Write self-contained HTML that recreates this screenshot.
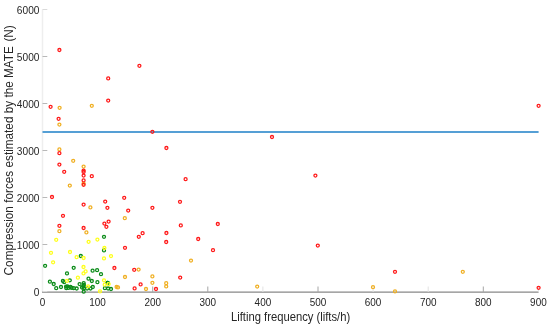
<!DOCTYPE html>
<html><head><meta charset="utf-8"><title>Chart</title>
<style>html,body{margin:0;padding:0;background:#fff}svg{display:block}text{font-family:"Liberation Sans",Arial,sans-serif;fill:#262626}</style>
</head><body>
<svg width="550" height="326" viewBox="0 0 550 326">
<rect width="550" height="326" fill="#fff"/>
<line x1="42.5" y1="9.5" x2="42.5" y2="292.0" stroke="#eeeeee" stroke-width="1.5"/>
<line x1="42.0" y1="292.2" x2="538.6" y2="292.2" stroke="#888" stroke-width="1.2"/>
<text transform="translate(42.5,306) scale(0.94,1)" font-size="10.6" text-anchor="middle">0</text>
<text transform="translate(97.6,306) scale(0.94,1)" font-size="10.6" text-anchor="middle">100</text>
<line x1="152.7" y1="292.0" x2="152.7" y2="286.5" stroke="#a6a6a6" stroke-width="1"/>
<text transform="translate(152.7,306) scale(0.94,1)" font-size="10.6" text-anchor="middle">200</text>
<line x1="207.8" y1="292.0" x2="207.8" y2="286.5" stroke="#a6a6a6" stroke-width="1"/>
<text transform="translate(207.8,306) scale(0.94,1)" font-size="10.6" text-anchor="middle">300</text>
<line x1="262.9" y1="292.0" x2="262.9" y2="286.5" stroke="#e2e2e2" stroke-width="1"/>
<text transform="translate(262.9,306) scale(0.94,1)" font-size="10.6" text-anchor="middle">400</text>
<line x1="318.0" y1="292.0" x2="318.0" y2="286.5" stroke="#a6a6a6" stroke-width="1"/>
<text transform="translate(318.0,306) scale(0.94,1)" font-size="10.6" text-anchor="middle">500</text>
<line x1="373.1" y1="292.0" x2="373.1" y2="286.5" stroke="#e2e2e2" stroke-width="1"/>
<text transform="translate(373.1,306) scale(0.94,1)" font-size="10.6" text-anchor="middle">600</text>
<line x1="428.2" y1="292.0" x2="428.2" y2="286.5" stroke="#e2e2e2" stroke-width="1"/>
<text transform="translate(428.2,306) scale(0.94,1)" font-size="10.6" text-anchor="middle">700</text>
<line x1="483.3" y1="292.0" x2="483.3" y2="286.5" stroke="#a6a6a6" stroke-width="1"/>
<text transform="translate(483.3,306) scale(0.94,1)" font-size="10.6" text-anchor="middle">800</text>
<line x1="538.4" y1="292.0" x2="538.4" y2="286.5" stroke="#e2e2e2" stroke-width="1"/>
<text transform="translate(538.4,306) scale(0.94,1)" font-size="10.6" text-anchor="middle">900</text>
<line x1="42.5" y1="291.5" x2="47.3" y2="291.5" stroke="#dadada" stroke-width="1"/>
<text transform="translate(39.4,296.4) scale(0.958,1)" font-size="10.6" text-anchor="end">0</text>
<line x1="42.5" y1="244.5" x2="47.3" y2="244.5" stroke="#b8b8b8" stroke-width="1"/>
<text transform="translate(39.4,249.4) scale(0.958,1)" font-size="10.6" text-anchor="end">1000</text>
<line x1="42.5" y1="197.5" x2="47.3" y2="197.5" stroke="#b8b8b8" stroke-width="1"/>
<text transform="translate(39.4,202.4) scale(0.958,1)" font-size="10.6" text-anchor="end">2000</text>
<line x1="42.5" y1="150.5" x2="47.3" y2="150.5" stroke="#b8b8b8" stroke-width="1"/>
<text transform="translate(39.4,155.4) scale(0.958,1)" font-size="10.6" text-anchor="end">3000</text>
<line x1="42.5" y1="103.5" x2="47.3" y2="103.5" stroke="#b8b8b8" stroke-width="1"/>
<text transform="translate(39.4,108.4) scale(0.958,1)" font-size="10.6" text-anchor="end">4000</text>
<line x1="42.5" y1="56.5" x2="47.3" y2="56.5" stroke="#b8b8b8" stroke-width="1"/>
<text transform="translate(39.4,61.4) scale(0.958,1)" font-size="10.6" text-anchor="end">5000</text>
<line x1="42.5" y1="9.5" x2="47.3" y2="9.5" stroke="#dadada" stroke-width="1"/>
<text transform="translate(39.4,14.4) scale(0.958,1)" font-size="10.6" text-anchor="end">6000</text>
<text transform="translate(290.6,321) scale(0.945,1)" font-size="11.9" text-anchor="middle">Lifting frequency (lifts/h)</text>
<text transform="translate(13.2,150.3) rotate(-90) scale(0.981,1)" font-size="12" text-anchor="middle">Compression forces estimated by the MATE<tspan dx="1.4"> (N)</tspan></text>
<line x1="42.5" y1="131.9" x2="538.6" y2="131.9" stroke="#559fd5" stroke-width="2"/>
<g fill="none" stroke="#0b8c19" stroke-width="1.3">
<circle cx="104" cy="236.8" r="1.5"/>
<circle cx="104" cy="250.4" r="1.5"/>
<circle cx="80.8" cy="256" r="1.5"/>
<circle cx="45.1" cy="265.8" r="1.5"/>
<circle cx="73.7" cy="267.8" r="1.5"/>
<circle cx="92.6" cy="270.7" r="1.5"/>
<circle cx="97.1" cy="270.2" r="1.5"/>
<circle cx="101" cy="274.2" r="1.5"/>
<circle cx="67" cy="273.4" r="1.5"/>
<circle cx="88.5" cy="278.7" r="1.5"/>
<circle cx="91.8" cy="281" r="1.5"/>
<circle cx="97.4" cy="282.2" r="1.5"/>
<circle cx="49.9" cy="281.7" r="1.5"/>
<circle cx="62.9" cy="281" r="1.5"/>
<circle cx="64.2" cy="282.2" r="1.5"/>
<circle cx="69.8" cy="280.3" r="1.5"/>
<circle cx="53.7" cy="284" r="1.5"/>
<circle cx="83.7" cy="283.1" r="1.5"/>
<circle cx="79.6" cy="284.1" r="1.5"/>
<circle cx="83.9" cy="285" r="1.5"/>
<circle cx="107.8" cy="282.8" r="1.5"/>
<circle cx="56.2" cy="288.2" r="1.5"/>
<circle cx="61" cy="287" r="1.5"/>
<circle cx="66.1" cy="286.6" r="1.5"/>
<circle cx="67.4" cy="286.3" r="1.5"/>
<circle cx="66.3" cy="288.2" r="1.5"/>
<circle cx="68.6" cy="287.9" r="1.5"/>
<circle cx="70.5" cy="287" r="1.5"/>
<circle cx="71.8" cy="287.9" r="1.5"/>
<circle cx="73.7" cy="288.2" r="1.5"/>
<circle cx="76.7" cy="288.5" r="1.5"/>
<circle cx="82" cy="287.5" r="1.5"/>
<circle cx="83.9" cy="288.3" r="1.5"/>
<circle cx="83.3" cy="286.6" r="1.5"/>
<circle cx="90.5" cy="288.5" r="1.5"/>
<circle cx="92.8" cy="287" r="1.5"/>
<circle cx="87.1" cy="288.5" r="1.5"/>
<circle cx="83.7" cy="291.7" r="1.5"/>
<circle cx="104.9" cy="288.2" r="1.5"/>
<circle cx="108.1" cy="288.5" r="1.5"/>
<circle cx="111" cy="289" r="1.5"/>
<circle cx="107.4" cy="283" r="1.5"/>
</g>
<g fill="none" stroke="#ffff1a" stroke-width="1.3">
<circle cx="56.2" cy="239.8" r="1.5"/>
<circle cx="97.4" cy="239.6" r="1.5"/>
<circle cx="88.6" cy="241.8" r="1.5"/>
<circle cx="104.4" cy="248" r="1.5"/>
<circle cx="51" cy="252.8" r="1.5"/>
<circle cx="70" cy="252" r="1.5"/>
<circle cx="76.6" cy="257.2" r="1.5"/>
<circle cx="83.6" cy="258" r="1.5"/>
<circle cx="104" cy="258.4" r="1.5"/>
<circle cx="111" cy="256.1" r="1.5"/>
<circle cx="53.1" cy="262.3" r="1.5"/>
<circle cx="83.5" cy="267" r="1.5"/>
<circle cx="85.6" cy="271.4" r="1.5"/>
<circle cx="83.5" cy="273.4" r="1.5"/>
<circle cx="77.9" cy="277.7" r="1.5"/>
<circle cx="104" cy="280.3" r="1.5"/>
<circle cx="67" cy="280.9" r="1.5"/>
<circle cx="104.7" cy="284.7" r="1.5"/>
<circle cx="108.7" cy="284.1" r="1.5"/>
<circle cx="88.1" cy="286.3" r="1.5"/>
<circle cx="100" cy="291.3" r="1.5"/>
</g>
<g fill="none" stroke="#f0b024" stroke-width="1.3">
<circle cx="59.6" cy="107.8" r="1.5"/>
<circle cx="59.4" cy="124.6" r="1.5"/>
<circle cx="91.8" cy="105.8" r="1.5"/>
<circle cx="59.4" cy="149.4" r="1.5"/>
<circle cx="73.2" cy="160.8" r="1.5"/>
<circle cx="83.6" cy="166.6" r="1.5"/>
<circle cx="83.6" cy="183.6" r="1.5"/>
<circle cx="69.8" cy="185.6" r="1.5"/>
<circle cx="90.4" cy="207.4" r="1.5"/>
<circle cx="59.4" cy="231.2" r="1.5"/>
<circle cx="86.4" cy="232.4" r="1.5"/>
<circle cx="124.8" cy="218.2" r="1.5"/>
<circle cx="191" cy="260.6" r="1.5"/>
<circle cx="138.6" cy="269.6" r="1.5"/>
<circle cx="125" cy="277" r="1.5"/>
<circle cx="152.4" cy="276.4" r="1.5"/>
<circle cx="152.4" cy="282.8" r="1.5"/>
<circle cx="166.2" cy="283.2" r="1.5"/>
<circle cx="166.2" cy="286.4" r="1.5"/>
<circle cx="116.6" cy="287" r="1.5"/>
<circle cx="118" cy="287.4" r="1.5"/>
<circle cx="146" cy="289" r="1.5"/>
<circle cx="257.2" cy="286.6" r="1.5"/>
<circle cx="373" cy="287.2" r="1.5"/>
<circle cx="395" cy="291.4" r="1.5"/>
<circle cx="462.8" cy="271.8" r="1.5"/>
</g>
<g fill="none" stroke="#ff1a1a" stroke-width="1.3">
<circle cx="59.4" cy="50" r="1.5"/>
<circle cx="50.6" cy="106.8" r="1.5"/>
<circle cx="58.6" cy="118.8" r="1.5"/>
<circle cx="108.2" cy="78.4" r="1.5"/>
<circle cx="108.2" cy="100.6" r="1.5"/>
<circle cx="139.4" cy="65.8" r="1.5"/>
<circle cx="152.4" cy="131.8" r="1.5"/>
<circle cx="166.4" cy="148" r="1.5"/>
<circle cx="272" cy="137" r="1.5"/>
<circle cx="538.6" cy="105.8" r="1.5"/>
<circle cx="59.4" cy="153.2" r="1.5"/>
<circle cx="59.4" cy="164.6" r="1.5"/>
<circle cx="64.2" cy="171.8" r="1.5"/>
<circle cx="83.6" cy="170.6" r="1.5"/>
<circle cx="83.6" cy="172" r="1.5"/>
<circle cx="83.6" cy="175.6" r="1.5"/>
<circle cx="91.8" cy="176.2" r="1.5"/>
<circle cx="83.6" cy="180.4" r="1.5"/>
<circle cx="83.6" cy="184.8" r="1.5"/>
<circle cx="52" cy="197" r="1.5"/>
<circle cx="83.6" cy="204.6" r="1.5"/>
<circle cx="105.2" cy="201.6" r="1.5"/>
<circle cx="107.4" cy="207.8" r="1.5"/>
<circle cx="63" cy="215.8" r="1.5"/>
<circle cx="108.6" cy="221.6" r="1.5"/>
<circle cx="104.4" cy="223.6" r="1.5"/>
<circle cx="59.4" cy="225.8" r="1.5"/>
<circle cx="106.4" cy="226.8" r="1.5"/>
<circle cx="83.6" cy="228" r="1.5"/>
<circle cx="185.6" cy="179.2" r="1.5"/>
<circle cx="124.2" cy="197.8" r="1.5"/>
<circle cx="180" cy="201.8" r="1.5"/>
<circle cx="152.4" cy="207.8" r="1.5"/>
<circle cx="128.2" cy="210.6" r="1.5"/>
<circle cx="180.8" cy="225.4" r="1.5"/>
<circle cx="217.8" cy="224" r="1.5"/>
<circle cx="142.6" cy="233.2" r="1.5"/>
<circle cx="166.4" cy="233" r="1.5"/>
<circle cx="138.8" cy="236.8" r="1.5"/>
<circle cx="198.2" cy="239" r="1.5"/>
<circle cx="166.2" cy="242" r="1.5"/>
<circle cx="125" cy="247.8" r="1.5"/>
<circle cx="213" cy="250.2" r="1.5"/>
<circle cx="114.4" cy="268" r="1.5"/>
<circle cx="134.2" cy="269.8" r="1.5"/>
<circle cx="180.2" cy="277.6" r="1.5"/>
<circle cx="140.6" cy="284.4" r="1.5"/>
<circle cx="134.6" cy="288.4" r="1.5"/>
<circle cx="156" cy="289" r="1.5"/>
<circle cx="315.4" cy="175.6" r="1.5"/>
<circle cx="317.8" cy="245.6" r="1.5"/>
<circle cx="395" cy="271.8" r="1.5"/>
<circle cx="538.6" cy="287.8" r="1.5"/>
</g>
</svg></body></html>
